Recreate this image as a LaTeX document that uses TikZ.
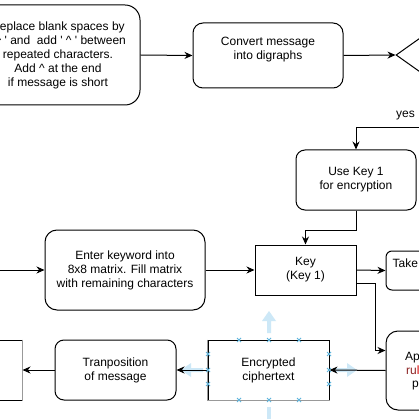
\documentclass[tikz,border=0pt]{standalone}
\usepackage{fontspec}
\setmainfont{Liberation Sans}
\usetikzlibrary{arrows.meta,shapes.geometric}
\definecolor{hov}{RGB}{205,232,247}
\definecolor{handle}{RGB}{95,180,220}
\definecolor{darkred}{RGB}{140,35,35}
\begin{document}
\begin{tikzpicture}[x=1pt,y=-1pt,
  font=\fontsize{12}{14}\selectfont,
  box/.style={draw=black, line width=1pt, align=center, inner sep=0pt, fill=white},
  rbox/.style={box, rounded corners=#1},
  arr/.style={-{Stealth[length=8pt,width=7pt]}, line width=1pt},
  hmark/.style={draw=handle, line width=0.8pt}]
\useasboundingbox (0,0) rectangle (419,419);
\clip (0,0) rectangle (419,419);
\fill[white] (0,0) rectangle (419,419);

% hover arrows around the selected box
\fill[hov] (267,333) -- (271,333) -- (271,321) -- (276,321) -- (269,311) -- (262,321) -- (267,321) -- cycle;
\fill[hov] (267,407) -- (271,407) -- (271,419) -- (267,419) -- cycle;
\fill[hov] (335,368) -- (347,368) -- (347,363) -- (357,370) -- (347,377) -- (347,372) -- (335,372) -- cycle;
\fill[hov] (203,368) -- (191,368) -- (191,363) -- (181,370) -- (191,377) -- (191,372) -- (203,372) -- cycle;

% nodes
\node[rbox=15, minimum width=164pt, minimum height=100pt] (b1) at (58,55)
  {Replace blank spaces by\\\textquotesingle\ \textasciicircum\ \textquotesingle\ and\ \ add \textquotesingle\ \textasciicircum\ \textquotesingle\ between\\repeated characters.\\Add \textasciicircum\ at the end\\if message is short};
\node[rbox=10, minimum width=150pt, minimum height=65pt] (b2) at (268,55.5)
  {Convert message\\into digraphs\\\mbox{}};
\node[draw=black, line width=1pt, diamond, aspect=1.41, inner sep=0pt,
  minimum width=100pt, minimum height=71pt] (dia) at (446,55) {};
\node (yes) at (405.5,116) {yes};
\coordinate (yesin) at (425,128);
\node[rbox=9, minimum width=120pt, minimum height=60pt] (uk) at (356,180)
  {Use Key 1\\for encryption};
\node[box, minimum width=101pt, minimum height=50pt] (key) at (305.5,270)
  {Key\\(Key 1)};
\node[rbox=12, minimum width=160pt, minimum height=80pt] (ent) at (125,270)
  {Enter keyword into\\8x8 matrix. Fill matrix\\with remaining characters};
\coordinate (entin) at (-5,270);
\node[rbox=6, minimum width=120pt, minimum height=39pt] (take) at (446,270.5) {};
\node[anchor=west, inner sep=0pt] (taket) at (392.5,263) {Take the};
\node[rbox=12, minimum width=120pt, minimum height=79pt] (app) at (446,370.5) {};
\node[anchor=west, inner sep=0pt] (appa) at (405,357) {Apply};
\node[anchor=west, inner sep=0pt] (appb) at (406,370.5) {{\color{darkred}ru}{\color{red!85!black}l}es};
\node[anchor=west, inner sep=0pt] (appc) at (412,384) {pairs};
\node[box, minimum width=121pt, minimum height=60pt] (enc) at (268.5,370)
  {Encrypted\\ciphertext};
\node[rbox=9, minimum width=121pt, minimum height=60pt] (tr) at (115.5,370)
  {Tranposition\\of message};
\node[box, minimum width=120pt, minimum height=60pt] (last) at (-38,370) {};

% selection look
\draw[gray!80, line width=1.3pt] (last.north east) -- (last.south east);
\draw[gray!80, line width=1pt] (enc.north west) -- (enc.south west) -- (enc.south east);

% connectors
\draw[arr] (b1.east) -- (b2.west);
\draw[arr] (b2.east) -- (dia.west);
\draw[arr] (yesin) -| (uk.north);
\draw[arr] (uk.south) -- ++(0,20) -| (key.north);
\draw[arr] (entin) -- (ent.west);
\draw[arr] (ent.east) -- (key.west);
\draw[arr] (key.east) -- (take.west);
\draw[arr] ([yshift=-13pt]key.east) -- ++(19,0) |- ([yshift=20pt]app.west);
\draw[arr] (app.west) -- (enc.east);
\draw[arr] (enc.west) -- (tr.east);
\draw[arr] (tr.west) -- (last.east);

% selection handles
\foreach \hx/\hy in {239/340,269/340,299/340,239/400,269/400,299/400,
                     208/354,208/370,208/384,329/354,329/370,329/384}
  \draw[hmark] (\hx-2,\hy-2) -- (\hx+2,\hy+2) (\hx-2,\hy+2) -- (\hx+2,\hy-2);
\end{tikzpicture}
\end{document}
